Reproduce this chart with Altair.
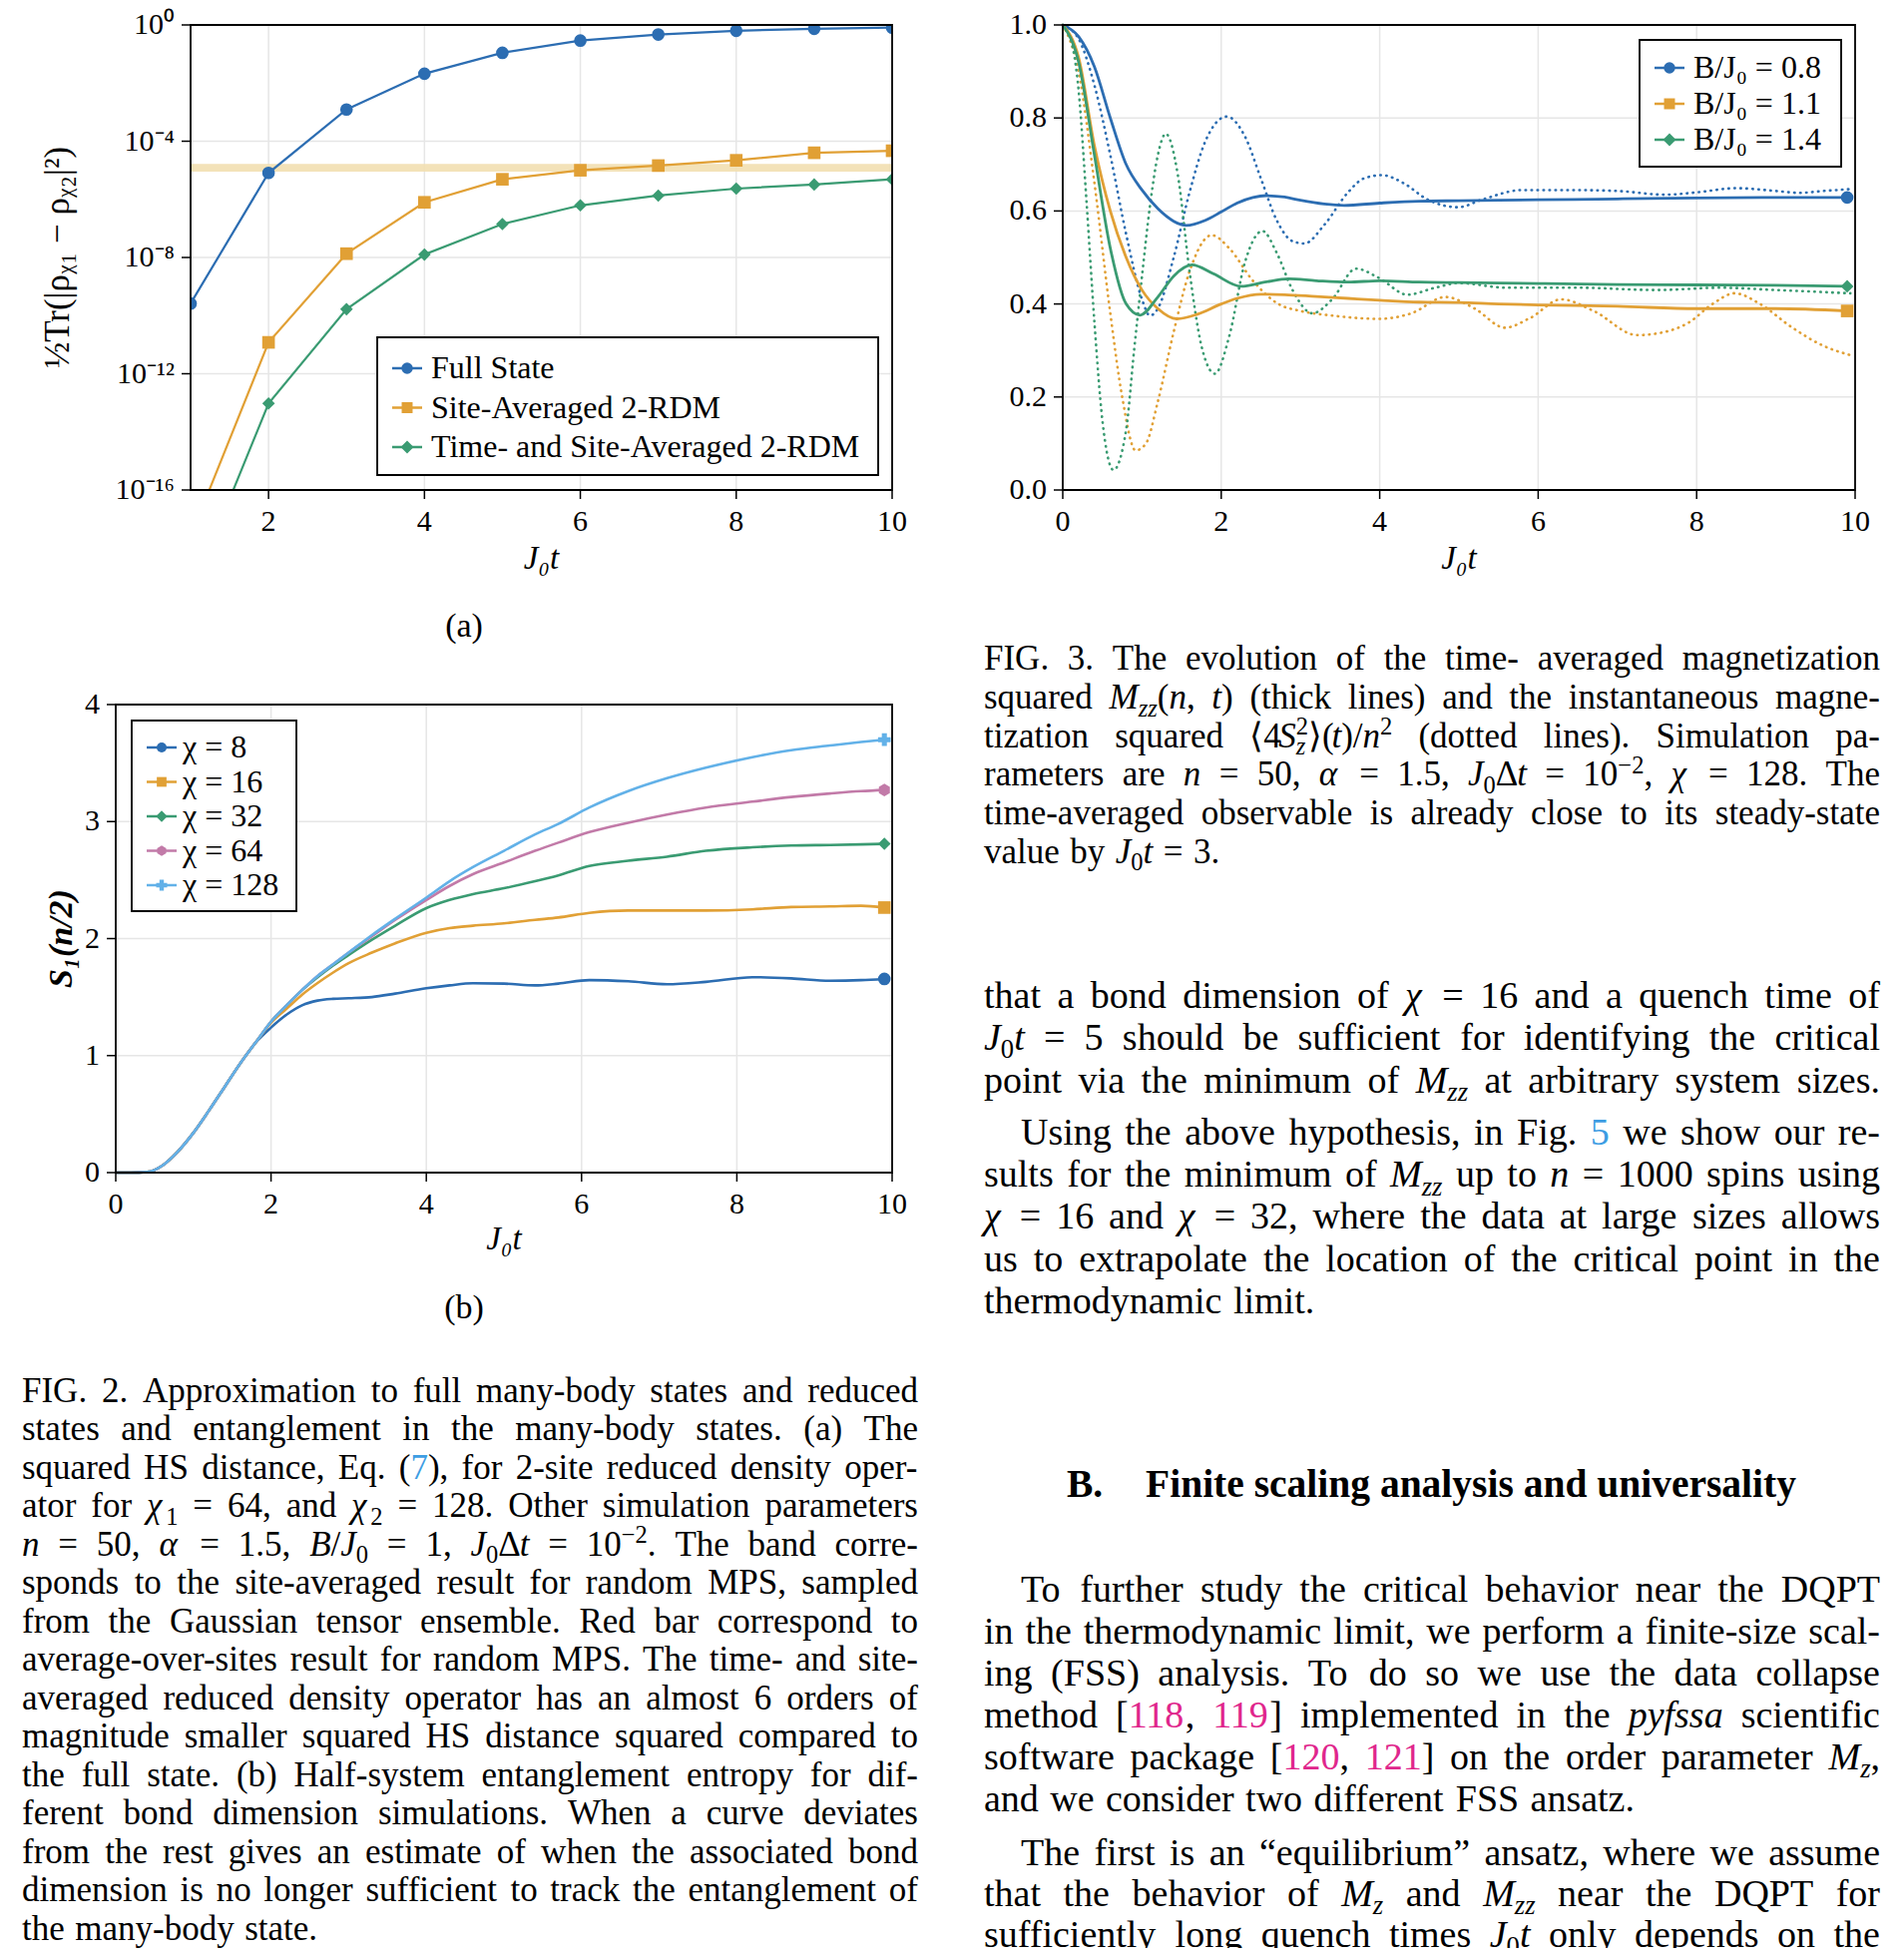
import math
import altair as alt
import pandas as pd

# ------------------------------------------------------------------ canvas
W, H = 1892, 1944
FONT = "Liberation Serif"
INK = "#000000"
BLUE, ORANGE, GREEN, PINK, SKY = "#2c6db2", "#e1a035", "#3a9b72", "#c27aa8", "#62b1e8"
GRID = "#e6e6e6"
BAND = "#f2dfb0"
COLS = {"k": INK, "b": "#3d9de3", "m": "#e0268c"}

# ------------------------------------------------------------------ data: Fig 2(a)
A_t = [1, 2, 3, 4, 5, 6, 7, 8, 9, 10]
A_full = [2.6e-10, 8.1e-6, 1.23e-3, 2.1e-2, 1.1e-1, 2.9e-1, 4.7e-1, 6.3e-1, 7.4e-1, 8.1e-1]
A_site = [2.5e-18, 1.2e-11, 1.35e-8, 7.9e-7, 4.9e-6, 1.0e-5, 1.45e-5, 2.2e-5, 4.0e-5, 4.7e-5]
A_time = [2.5e-20, 9.5e-14, 1.66e-10, 1.26e-8, 1.41e-7, 6.2e-7, 1.35e-6, 2.34e-6, 3.24e-6, 4.9e-6]
A_names = ["Full State", "Site-Averaged 2-RDM", "Time- and Site-Averaged 2-RDM"]
A_band = [9.0e-6, 1.65e-5]
A_xticks = [2, 4, 6, 8, 10]
A_yticks = [1e-16, 1e-12, 1e-8, 1e-4, 1]
A_ylabels = ["10⁻¹⁶", "10⁻¹²", "10⁻⁸", "10⁻⁴", "10⁰"]

# ------------------------------------------------------------------ data: Fig 3
F_names = ["B/J₀ = 0.8", "B/J₀ = 1.1", "B/J₀ = 1.4"]
F08_avg_t = [0, 0.2, 0.4, 0.6, 0.8, 1.0, 1.2, 1.4, 1.56, 1.8, 2.0, 2.2, 2.4, 2.57, 2.8, 3.0, 3.3, 3.55, 4.0, 4.5, 5.0, 6.0, 7.0, 8.0, 9.0, 9.9]
F08_avg = [1.0, 0.975, 0.91, 0.80, 0.70, 0.645, 0.605, 0.578, 0.569, 0.58, 0.598, 0.617, 0.629, 0.633, 0.63, 0.623, 0.615, 0.612, 0.617, 0.621, 0.622, 0.624, 0.626, 0.628, 0.629, 0.629]
F08_ins_t = [0, 0.2, 0.4, 0.6, 0.8, 1.0, 1.1, 1.2, 1.4, 1.6, 1.8, 2.07, 2.3, 2.5, 2.7, 2.9, 3.05, 3.3, 3.6, 3.8, 4.03, 4.3, 4.6, 4.99, 5.3, 5.8, 6.4, 7.0, 7.6, 8.0, 8.5, 9.0, 9.3, 9.6, 9.94]
F08_ins = [1.0, 0.97, 0.87, 0.72, 0.55, 0.41, 0.375, 0.39, 0.50, 0.64, 0.75, 0.803, 0.76, 0.67, 0.58, 0.535, 0.53, 0.57, 0.64, 0.67, 0.677, 0.66, 0.625, 0.608, 0.625, 0.645, 0.645, 0.643, 0.635, 0.64, 0.649, 0.643, 0.639, 0.643, 0.647]
F11_avg_t = [0, 0.2, 0.4, 0.6, 0.8, 1.0, 1.2, 1.44, 1.7, 2.0, 2.2, 2.5, 2.8, 3.2, 3.6, 4.0, 4.5, 5.0, 5.5, 6.0, 7.0, 8.0, 9.0, 9.9]
F11_avg = [1.0, 0.93, 0.74, 0.60, 0.50, 0.43, 0.39, 0.368, 0.378, 0.40, 0.412, 0.421, 0.42, 0.416, 0.412, 0.408, 0.404, 0.403, 0.40, 0.398, 0.395, 0.39, 0.39, 0.385]
F11_ins_t = [0, 0.2, 0.4, 0.6, 0.75, 0.92, 1.05, 1.2, 1.4, 1.6, 1.88, 2.1, 2.4, 2.72, 3.0, 3.4, 4.0, 4.4, 4.83, 5.2, 5.58, 5.9, 6.29, 6.7, 7.25, 7.6, 7.9, 8.2, 8.48, 8.8, 9.2, 9.6, 9.94]
F11_ins = [1.0, 0.90, 0.66, 0.38, 0.20, 0.085, 0.10, 0.19, 0.34, 0.47, 0.548, 0.52, 0.45, 0.40, 0.385, 0.375, 0.368, 0.38, 0.415, 0.39, 0.349, 0.37, 0.41, 0.385, 0.333, 0.34, 0.36, 0.40, 0.423, 0.40, 0.35, 0.31, 0.29]
F14_avg_t = [0, 0.2, 0.4, 0.6, 0.8, 0.975, 1.2, 1.4, 1.63, 1.9, 2.25, 2.55, 2.85, 3.2, 3.6, 4.0, 4.5, 5.0, 6.0, 7.0, 8.0, 9.0, 9.9]
F14_avg = [1.0, 0.92, 0.72, 0.52, 0.40, 0.376, 0.415, 0.46, 0.484, 0.465, 0.438, 0.447, 0.454, 0.45, 0.447, 0.45, 0.447, 0.446, 0.444, 0.442, 0.441, 0.44, 0.438]
F14_ins_t = [0, 0.1, 0.2, 0.3, 0.4, 0.5, 0.64, 0.8, 0.9, 1.0, 1.1, 1.2, 1.3, 1.45, 1.6, 1.75, 1.92, 2.1, 2.3, 2.52, 2.7, 2.9, 3.15, 3.4, 3.7, 4.0, 4.35, 4.7, 5.0, 5.6, 6.5, 7.5, 8.3, 9.0, 9.94]
F14_ins = [1.0, 0.97, 0.86, 0.62, 0.36, 0.15, 0.043, 0.13, 0.30, 0.46, 0.61, 0.72, 0.766, 0.68, 0.47, 0.31, 0.25, 0.33, 0.49, 0.557, 0.51, 0.43, 0.38, 0.41, 0.476, 0.455, 0.42, 0.435, 0.445, 0.435, 0.435, 0.43, 0.435, 0.43, 0.423]
F_xticks = [0, 2, 4, 6, 8, 10]
F_yticks = [0.0, 0.2, 0.4, 0.6, 0.8, 1.0]

# ------------------------------------------------------------------ data: Fig 2(b)
B_names = ["χ = 8", "χ = 16", "χ = 32", "χ = 64", "χ = 128"]
B_t = [0, 0.2, 0.4, 0.6, 0.8, 1.0, 1.2, 1.4, 1.6, 1.8, 2.0, 2.2, 2.4, 2.6, 2.8, 3.0, 3.3, 3.6, 4.0, 4.3, 4.6, 5.0, 5.4, 5.7, 6.1, 6.6, 7.1, 7.6, 8.2, 8.7, 9.2, 9.6, 9.9]
B_early = [0, 0, 0.005, 0.06, 0.18, 0.34, 0.53, 0.73, 0.93, 1.11]
B_chi8 = B_early + [1.24, 1.35, 1.43, 1.47, 1.485, 1.49, 1.50, 1.53, 1.575, 1.60, 1.618, 1.615, 1.60, 1.615, 1.645, 1.635, 1.61, 1.63, 1.67, 1.66, 1.64, 1.645, 1.655]
B_chi16 = B_early + [1.28, 1.40, 1.52, 1.62, 1.71, 1.79, 1.88, 1.96, 2.05, 2.09, 2.11, 2.13, 2.16, 2.18, 2.22, 2.24, 2.24, 2.24, 2.25, 2.27, 2.275, 2.28, 2.265]
B_chi32 = B_early + [1.29, 1.43, 1.56, 1.67, 1.77, 1.86, 1.99, 2.11, 2.26, 2.33, 2.38, 2.43, 2.49, 2.54, 2.62, 2.665, 2.70, 2.75, 2.78, 2.795, 2.80, 2.805, 2.81]
B_chi64 = B_early + [1.29, 1.43, 1.56, 1.68, 1.78, 1.88, 2.02, 2.16, 2.33, 2.45, 2.55, 2.65, 2.75, 2.82, 2.91, 2.99, 3.06, 3.12, 3.17, 3.21, 3.24, 3.26, 3.27]
B_chi128 = B_early + [1.29, 1.43, 1.56, 1.68, 1.78, 1.88, 2.03, 2.17, 2.35, 2.49, 2.61, 2.75, 2.89, 2.98, 3.12, 3.26, 3.37, 3.46, 3.55, 3.61, 3.65, 3.68, 3.70]
B_xticks = [0, 2, 4, 6, 8, 10]
B_yticks = [0, 1, 2, 3, 4]

# ------------------------------------------------------------------ text
CAP2 = [
    "FIG. 2. Approximation to full many-body states and reduced",
    "states and entanglement in the many-body states. (a) The",
    "squared HS distance, Eq. (~b7~k), for 2-site reduced density oper-",
    "ator for *χ*_{1} = 64, and *χ*_{2} = 128. Other simulation parameters",
    "*n* = 50, *α* = 1.5, *B*/*J*_{0} = 1, *J*_{0}Δ*t* = 10^{−2}. The band corre-",
    "sponds to the site-averaged result for random MPS, sampled",
    "from the Gaussian tensor ensemble. Red bar correspond to",
    "average-over-sites result for random MPS. The time- and site-",
    "averaged reduced density operator has an almost 6 orders of",
    "magnitude smaller squared HS distance squared compared to",
    "the full state. (b) Half-system entanglement entropy for dif-",
    "ferent bond dimension simulations. When a curve deviates",
    "from the rest gives an estimate of when the associated bond",
    "dimension is no longer sufficient to track the entanglement of",
    "the many-body state.",
]
CAP3 = [
    "FIG. 3. The evolution of the time- averaged magnetization",
    "squared *M_{zz}*(*n*, *t*) (thick lines) and the instantaneous magne-",
    "tization squared ⟨4*S*^{2}_{*z*}⟩(*t*)/*n*^{2} (dotted lines). Simulation pa-",
    "rameters are *n* = 50, *α* = 1.5, *J*_{0}Δ*t* = 10^{−2}, *χ* = 128. The",
    "time-averaged observable is already close to its steady-state",
    "value by *J*_{0}*t* = 3.",
]
P1 = [
    "that a bond dimension of *χ* = 16 and a quench time of",
    "*J*_{0}*t* = 5 should be sufficient for identifying the critical",
    "point via the minimum of *M_{zz}* at arbitrary system sizes.",
]
P2 = [
    "Using the above hypothesis, in Fig. ~b5~k we show our re-",
    "sults for the minimum of *M_{zz}* up to *n* = 1000 spins using",
    "*χ* = 16 and *χ* = 32, where the data at large sizes allows",
    "us to extrapolate the location of the critical point in the",
    "thermodynamic limit.",
]
HEAD_NUM = "B."
HEAD_TXT = "Finite scaling analysis and universality"
P3 = [
    "To further study the critical behavior near the DQPT",
    "in the thermodynamic limit, we perform a finite-size scal-",
    "ing (FSS) analysis. To do so we use the data collapse",
    "method [~m118~k, ~m119~k] implemented in the *pyfssa* scientific",
    "software package [~m120~k, ~m121~k] on the order parameter *M_{z}*,",
    "and we consider two different FSS ansatz.",
]
P4 = [
    "The first is an “equilibrium” ansatz, where we assume",
    "that the behavior of *M_{z}* and *M_{zz}* near the DQPT for",
    "sufficiently long quench times *J*_{0}*t* only depends on the",
]

# ------------------------------------------------------------------ font metrics (Times-compatible)
UC = "ABCDEFGHIJKLMNOPQRSTUVWXYZ"
LC = "abcdefghijklmnopqrstuvwxyz"
WR = dict(zip(UC, [722, 667, 667, 722, 611, 556, 722, 722, 333, 389, 722, 611, 889, 722, 722, 556, 722, 667, 556, 611, 722, 722, 944, 722, 722, 611]))
WR.update(zip(LC, [444, 500, 444, 500, 444, 333, 500, 500, 278, 278, 500, 278, 778, 500, 500, 500, 500, 333, 389, 278, 500, 500, 722, 500, 500, 444]))
WR.update({c: 500 for c in "0123456789"})
WR.update({" ": 250, ",": 250, ".": 250, "-": 333, "(": 333, ")": 333, "[": 333, "]": 333, "/": 278, ":": 278,
           ";": 278, "=": 564, "−": 564, "“": 444, "”": 444, "⟨": 333, "⟩": 333, "χ": 549, "α": 631, "Δ": 612, "'": 333})
WI = dict(WR)
WI.update(zip(UC, [611, 611, 667, 722, 611, 611, 722, 722, 333, 444, 667, 556, 833, 667, 722, 611, 722, 611, 500, 556, 722, 611, 833, 611, 556, 556]))
WI.update(zip(LC, [500, 500, 444, 500, 444, 278, 500, 500, 278, 278, 444, 278, 722, 500, 500, 500, 500, 389, 389, 278, 500, 444, 667, 444, 444, 389]))
SCR = 0.7


def parse(markup):
    words, word, buf = [], [], []
    ital, col, scr = False, "k", 0

    def push():
        if buf:
            word.append(("".join(buf), ital, scr, col))
            buf.clear()

    i = 0
    while i < len(markup):
        ch = markup[i]
        if ch == "*":
            push(); ital = not ital; i += 1
        elif ch == "~":
            push(); col = markup[i + 1]; i += 2
        elif ch in "_^" and markup[i + 1:i + 2] == "{":
            push(); scr = -1 if ch == "_" else 1; i += 2
        elif ch == "}" and scr != 0:
            push(); scr = 0; i += 1
        elif ch == " " and scr == 0:
            push()
            if word:
                words.append(list(word)); word.clear()
            i += 1
        else:
            buf.append(ch); i += 1
    push()
    if word:
        words.append(list(word))
    return words


def seg_w(t, it, sc, fs):
    tab = WI if it else WR
    return sum(tab.get(c, 500) for c in t) / 1000.0 * fs * (SCR if sc else 1.0)


def build_words(words, fs):
    out = []
    for word in words:
        segs, x, sup = [], 0.0, None
        for (t, it, sc, col) in word:
            w = seg_w(t, it, sc, fs)
            if sc == -1 and sup is not None:
                segs.append((t, sup[0], it, sc, col)); x = max(x, sup[0] + w); sup = None
                continue
            segs.append((t, x, it, sc, col))
            sup = (x, w) if sc == 1 else None
            x += w
        out.append((segs, x))
    return out


def block_records(lines, fs0, spacing, width, indent_first, last_just):
    parsed = [parse(l) for l in lines]
    n = len(lines)
    just = [True] * (n - 1) + [last_just]
    ind = [indent_first] + [0] * (n - 1)
    fs = fs0
    while fs > 20:
        ok = True
        for k, words in enumerate(parsed):
            if not just[k]:
                continue
            ws = build_words(words, fs)
            nat = sum(w for _, w in ws) + 0.2 * fs * (len(ws) - 1)
            if nat > width - ind[k]:
                ok = False
                break
        if ok:
            break
        fs -= 0.5
    recs = []
    for k, words in enumerate(parsed):
        ws = build_words(words, fs)
        nat = sum(w for _, w in ws)
        if just[k] and len(ws) > 1:
            gap = (width - ind[k] - nat) / (len(ws) - 1)
        else:
            gap = 0.3 * fs
        x = ind[k]
        for segs, w in ws:
            for (t, sx, it, sc, col) in segs:
                dy = 0.22 * fs if sc == -1 else (-0.36 * fs if sc == 1 else 0.0)
                recs.append({"txt": t, "x": x + sx, "ln": k + dy / spacing,
                             "fs": fs * (SCR if sc else 1.0), "col": COLS[col], "it": int(it)})
            x += w + gap
    return pd.DataFrame(recs)


def text_block(lines, left, center0, spacing, fs, indent=0, last_just=False, width=898):
    df = block_records(lines, fs, spacing, width, indent, last_just)
    base0 = center0 + 0.25 * fs
    xs = alt.Scale(domain=[0, width], range=[left, left + width], nice=False, zero=False)
    ys = alt.Scale(domain=[0, 1], range=[base0, base0 + spacing], nice=False, zero=False)
    enc = dict(x=alt.X("x:Q", scale=xs, axis=None), y=alt.Y("ln:Q", scale=ys, axis=None),
               text=alt.Text("txt:N"), size=alt.Size("fs:Q", scale=None, legend=None),
               color=alt.Color("col:N", scale=None, legend=None))
    base = alt.Chart(df)
    up = base.transform_filter("datum.it == 0").mark_text(font=FONT, align="left", baseline="alphabetic").encode(**enc)
    itl = base.transform_filter("datum.it == 1").mark_text(font=FONT, align="left", baseline="alphabetic",
                                                           fontStyle="italic").encode(**enc)
    return alt.layer(up, itl)


# ------------------------------------------------------------------ helpers for panels
def grid_layers(xs, ys, xvals, yvals, xdom, ydom):
    gx = alt.Chart(pd.DataFrame({"g": xvals, "a": ydom[0], "b": ydom[1]})).mark_rule(
        color=GRID, strokeWidth=1.5).encode(x=alt.X("g:Q", scale=xs, axis=None),
                                            y=alt.Y("a:Q", scale=ys, axis=None), y2="b:Q")
    gy = alt.Chart(pd.DataFrame({"g": yvals, "a": xdom[0], "b": xdom[1]})).mark_rule(
        color=GRID, strokeWidth=1.5).encode(y=alt.Y("g:Q", scale=ys, axis=None),
                                            x=alt.X("a:Q", scale=xs, axis=None), x2="b:Q")
    return [gx, gy]


def rect_layer(xs, ys, rows, **mark):
    df = pd.DataFrame(rows, columns=["x0", "x1", "y0", "y1"])
    return alt.Chart(df).mark_rect(**mark).encode(
        x=alt.X("x0:Q", scale=xs, axis=None), x2="x1:Q",
        y=alt.Y("y0:Q", scale=ys, axis=None), y2="y1:Q")


def axis_layers(xs, ys, xticks, xlabs, yticks, ylabs, ybot, xleft, fs=30):
    dfx = pd.DataFrame({"v": xticks, "lab": xlabs})
    dfy = pd.DataFrame({"v": yticks, "lab": ylabs})
    xt = alt.Chart(dfx).mark_rule(color=INK, strokeWidth=1.5).encode(
        x=alt.X("v:Q", scale=xs, axis=None), y=alt.value(ybot), y2=alt.value(ybot + 9))
    xl = alt.Chart(dfx).mark_text(font=FONT, fontSize=fs, align="center", baseline="alphabetic", color=INK).encode(
        x=alt.X("v:Q", scale=xs, axis=None), y=alt.value(ybot + 41), text="lab:N")
    yt = alt.Chart(dfy).mark_rule(color=INK, strokeWidth=1.5).encode(
        y=alt.Y("v:Q", scale=ys, axis=None), x=alt.value(xleft - 9), x2=alt.value(xleft))
    yl = alt.Chart(dfy).mark_text(font=FONT, fontSize=fs, align="right", baseline="middle", color=INK).encode(
        y=alt.Y("v:Q", scale=ys, axis=None), x=alt.value(xleft - 16), text="lab:N")
    return [xt, xl, yt, yl]


def label(txt, x, y, fs, align="center", weight="normal", style="normal", angle=0, baseline="alphabetic"):
    return alt.Chart(pd.DataFrame({"txt": [txt]})).mark_text(
        font=FONT, fontSize=fs, align=align, baseline=baseline, fontWeight=weight, fontStyle=style,
        angle=angle, color=INK).encode(x=alt.value(x), y=alt.value(y), text="txt:N")


def legend(labels, colors, shapes, sizes, box, y_first, y_last, line_x, mark_x, text_x, fs=32):
    n = len(labels)
    df = pd.DataFrame({"lab": labels, "col": colors, "shp": shapes, "sz": sizes, "i": list(range(n))})
    ys = alt.Scale(domain=[0, n - 1], range=[y_first, y_last], nice=False, zero=False)
    y = alt.Y("i:Q", scale=ys, axis=None)
    boxl = alt.Chart(pd.DataFrame({"k": [0]})).mark_rect(fill="white", stroke=INK, strokeWidth=1.8).encode(
        x=alt.value(box[0]), x2=alt.value(box[1]), y=alt.value(box[2]), y2=alt.value(box[3]))
    rules = alt.Chart(df).mark_rule(strokeWidth=2.5).encode(
        x=alt.value(line_x[0]), x2=alt.value(line_x[1]), y=y,
        color=alt.Color("col:N", scale=None, legend=None))
    pts = alt.Chart(df).mark_point(filled=True, opacity=1).encode(
        x=alt.value(mark_x), y=y, color=alt.Color("col:N", scale=None, legend=None),
        shape=alt.Shape("shp:N", scale=None, legend=None), size=alt.Size("sz:Q", scale=None, legend=None))
    txt = alt.Chart(df).mark_text(font=FONT, fontSize=fs, align="left", baseline="middle", color=INK).encode(
        x=alt.value(text_x), y=y, text="lab:N")
    return alt.layer(boxl, rules, pts, txt)


HEX = "M0,-1L0.866,-0.5L0.866,0.5L0,1L-0.866,0.5L-0.866,-0.5Z"

# ------------------------------------------------------------------ panel (a)
AX0, AX1, AYB, AYT = 183, 886, 483, 17
xA = alt.Scale(domain=[1, 10], range=[AX0, AX1], nice=False, zero=False)
yA = alt.Scale(type="log", domain=[1e-16, 1], range=[AYB, AYT], nice=False)
dfA = pd.DataFrame({"t": A_t * 3, "v": A_full + A_site + A_time,
                    "s": [nm for nm in A_names for _ in A_t]})
colA = alt.Scale(domain=A_names, range=[BLUE, ORANGE, GREEN])
lineA = alt.Chart(dfA).mark_line(strokeWidth=2.2).encode(
    x=alt.X("t:Q", scale=xA, axis=None), y=alt.Y("v:Q", scale=yA, axis=None),
    color=alt.Color("s:N", scale=colA, legend=None))
ptsA = alt.Chart(dfA).mark_point(filled=True, opacity=1).encode(
    x=alt.X("t:Q", scale=xA, axis=None), y=alt.Y("v:Q", scale=yA, axis=None),
    color=alt.Color("s:N", scale=colA, legend=None),
    shape=alt.Shape("s:N", scale=alt.Scale(domain=A_names, range=["circle", "square", "diamond"]), legend=None),
    size=alt.Size("s:N", scale=alt.Scale(domain=A_names, range=[160, 160, 220]), legend=None))
bandA = rect_layer(xA, yA, [[1, 10, A_band[0], A_band[1]]], color=BAND, opacity=0.9)
maskA = rect_layer(xA, yA, [[0.6, 10.4, 1e-22, 1e-16], [0.6, 1, 1e-22, 10], [10, 10.4, 1e-22, 10],
                            [0.6, 10.4, 1, 10]], color="white")
frameA = rect_layer(xA, yA, [[1, 10, 1e-16, 1]], fillOpacity=0, stroke=INK, strokeWidth=1.8)
panelA = alt.layer(*grid_layers(xA, yA, [2, 4, 6, 8], [1e-12, 1e-8, 1e-4], [1, 10], [1e-16, 1]),
                   bandA, lineA, ptsA, maskA, frameA,
                   *axis_layers(xA, yA, A_xticks, [str(v) for v in A_xticks], A_yticks, A_ylabels, AYB, AX0))
legA = legend(A_names, [BLUE, ORANGE, GREEN], ["circle", "square", "diamond"], [130, 120, 170],
              (370, 872, 330, 468), 361, 440, (385, 415), 400, 424, fs=32)

# ------------------------------------------------------------------ panel Fig 3
FX0, FX1, FYB, FYT = 1057, 1851, 483, 17
xF = alt.Scale(domain=[0, 10], range=[FX0, FX1], nice=False, zero=False)
yF = alt.Scale(domain=[0, 1], range=[FYB, FYT], nice=False, zero=False)
rowsF = []
for nm, ta, va, ti, vi in [(F_names[0], F08_avg_t, F08_avg, F08_ins_t, F08_ins),
                           (F_names[1], F11_avg_t, F11_avg, F11_ins_t, F11_ins),
                           (F_names[2], F14_avg_t, F14_avg, F14_ins_t, F14_ins)]:
    rowsF += [{"t": a, "v": b, "s": nm, "k": "avg"} for a, b in zip(ta, va)]
    rowsF += [{"t": a, "v": b, "s": nm, "k": "ins"} for a, b in zip(ti, vi)]
dfF = pd.DataFrame(rowsF)
endF = pd.DataFrame({"t": [F08_avg_t[-1], F11_avg_t[-1], F14_avg_t[-1]],
                     "v": [F08_avg[-1], F11_avg[-1], F14_avg[-1]], "s": F_names})
colF = alt.Scale(domain=F_names, range=[BLUE, ORANGE, GREEN])
dotF = alt.Chart(dfF).transform_filter("datum.k == 'ins'").mark_line(
    strokeWidth=2.6, strokeDash=[0.5, 5.5], strokeCap="round", interpolate="monotone").encode(
    x=alt.X("t:Q", scale=xF, axis=None), y=alt.Y("v:Q", scale=yF, axis=None),
    color=alt.Color("s:N", scale=colF, legend=None))
solF = alt.Chart(dfF).transform_filter("datum.k == 'avg'").mark_line(
    strokeWidth=2.8, interpolate="monotone").encode(
    x=alt.X("t:Q", scale=xF, axis=None), y=alt.Y("v:Q", scale=yF, axis=None),
    color=alt.Color("s:N", scale=colF, legend=None))
ptsF = alt.Chart(endF).mark_point(filled=True, opacity=1).encode(
    x=alt.X("t:Q", scale=xF, axis=None), y=alt.Y("v:Q", scale=yF, axis=None),
    color=alt.Color("s:N", scale=colF, legend=None),
    shape=alt.Shape("s:N", scale=alt.Scale(domain=F_names, range=["circle", "square", "diamond"]), legend=None),
    size=alt.Size("s:N", scale=alt.Scale(domain=F_names, range=[160, 160, 220]), legend=None))
frameF = rect_layer(xF, yF, [[0, 10, 0, 1]], fillOpacity=0, stroke=INK, strokeWidth=1.8)
panelF = alt.layer(*grid_layers(xF, yF, [2, 4, 6, 8], [0.2, 0.4, 0.6, 0.8], [0, 10], [0, 1]),
                   dotF, solF, ptsF, frameF,
                   *axis_layers(xF, yF, F_xticks, [str(v) for v in F_xticks], F_yticks,
                                [f"{v:.1f}" for v in F_yticks], FYB, FX0))
legF = legend(F_names, [BLUE, ORANGE, GREEN], ["circle", "square", "diamond"], [130, 120, 170],
              (1635, 1837, 32, 159), 60, 132, (1650, 1680), 1665, 1689, fs=32)

# ------------------------------------------------------------------ panel (b)
BX0, BX1, BYB, BYT = 108, 886, 1167, 698
xB = alt.Scale(domain=[0, 10], range=[BX0, BX1], nice=False, zero=False)
yB = alt.Scale(domain=[0, 4], range=[BYB, BYT], nice=False, zero=False)
B_series = [B_chi8, B_chi16, B_chi32, B_chi64, B_chi128]
dfB = pd.DataFrame({"t": B_t * 5, "v": sum(B_series, []), "s": [nm for nm in B_names for _ in B_t]})
endB = pd.DataFrame({"t": [B_t[-1]] * 5, "v": [s[-1] for s in B_series], "s": B_names})
colB = alt.Scale(domain=B_names, range=[BLUE, ORANGE, GREEN, PINK, SKY])
shpB = alt.Scale(domain=B_names, range=["circle", "square", "diamond", HEX, "cross"])
lineB = alt.Chart(dfB).mark_line(strokeWidth=2.6, interpolate="monotone").encode(
    x=alt.X("t:Q", scale=xB, axis=None), y=alt.Y("v:Q", scale=yB, axis=None),
    color=alt.Color("s:N", scale=colB, legend=None))
ptsB = alt.Chart(endB).mark_point(filled=True, opacity=1).encode(
    x=alt.X("t:Q", scale=xB, axis=None), y=alt.Y("v:Q", scale=yB, axis=None),
    color=alt.Color("s:N", scale=colB, legend=None),
    shape=alt.Shape("s:N", scale=shpB, legend=None),
    size=alt.Size("s:N", scale=alt.Scale(domain=B_names, range=[160, 160, 220, 180, 200]), legend=None))
frameB = rect_layer(xB, yB, [[0, 10, 0, 4]], fillOpacity=0, stroke=INK, strokeWidth=1.8)
panelB = alt.layer(*grid_layers(xB, yB, [2, 4, 6, 8], [1, 2, 3], [0, 10], [0, 4]), lineB, ptsB, frameB,
                   *axis_layers(xB, yB, B_xticks, [str(v) for v in B_xticks], B_yticks,
                                [str(v) for v in B_yticks], BYB, BX0))
legB = legend(B_names, [BLUE, ORANGE, GREEN, PINK, SKY], ["circle", "square", "diamond", HEX, "cross"],
              [100, 95, 130, 110, 120], (124, 289, 714, 905), 741, 879, (139, 169), 154, 175, fs=32)

# ------------------------------------------------------------------ axis titles, labels, heading, text
tA_x = label("J₀t", (AX0 + AX1) / 2, 552, 33, style="italic", baseline="middle")
tA_y = label("½Tr(|ρᵪ₁ − ρᵪ₂|²)", 50, (AYT + AYB) / 2, 35, angle=270, baseline="middle")
tF_x = label("J₀t", (FX0 + FX1) / 2, 552, 33, style="italic", baseline="middle")
tB_x = label("J₀t", (BX0 + BX1) / 2, 1234, 33, style="italic", baseline="middle")
tB_y = label("S₁(n/2)", 54, (BYT + BYB) / 2, 34, angle=270, style="italic", weight="bold", baseline="middle")

lab_a = label("(a)", 457, 630, 34)
lab_b = label("(b)", 457, 1313, 34)
head1 = label(HEAD_NUM, 1061, 1492, 39.5, align="left", weight="bold")
head2 = label(HEAD_TXT, 1466, 1492, 39.5, align="center", weight="bold")

cap2 = text_block(CAP2, 14, 1388, 38.5, 35)
cap3 = text_block(CAP3, 978, 654.5, 38.7, 35)
p1 = text_block(P1, 978, 992, 42.5, 38, last_just=True)
p2 = text_block(P2, 978, 1129.5, 42.2, 38, indent=37)
p3 = text_block(P3, 978, 1587, 42.0, 38, indent=37)
p4 = text_block(P4, 978, 1851, 41.0, 38, indent=37, last_just=True)

chart = alt.layer(
    panelA, legA, panelF, legF, panelB, legB, tA_x, tA_y, tF_x, tB_x, tB_y,
    lab_a, lab_b, head1, head2, cap2, cap3, p1, p2, p3, p4
).resolve_scale(
    x="independent", y="independent", color="independent", shape="independent", size="independent"
).properties(
    width=W, height=H, autosize=alt.AutoSizeParams(type="none"), padding=0, background="white"
).configure_view(stroke=None)

chart.save("out.html", embed_options={"renderer": "svg", "actions": False})
